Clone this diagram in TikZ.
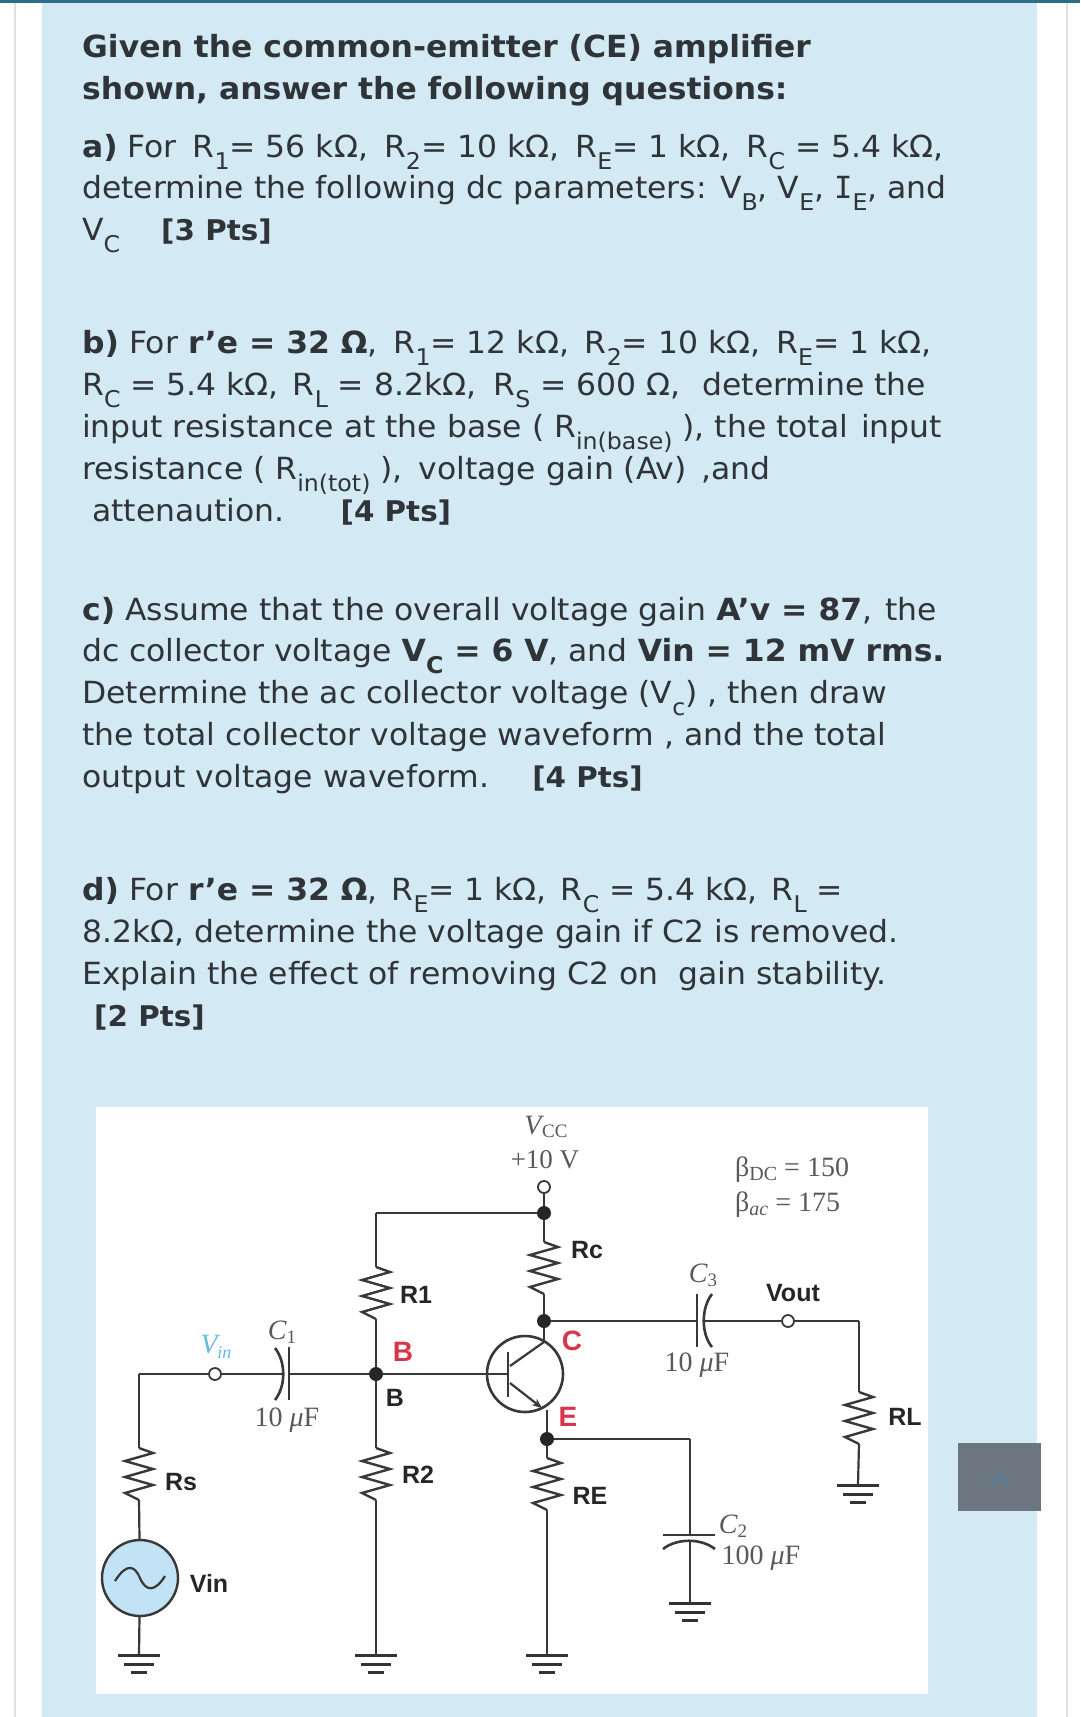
\documentclass[tikz,border=0pt]{standalone}
\usepackage{fontspec}
\setmainfont[FakeStretch=1.03]{DejaVu Sans}
\newfontfamily\serifx{Liberation Serif}
\newfontfamily\sansx{Liberation Sans}
\newfontfamily\monox{DejaVu Sans Mono}
\usetikzlibrary{arrows.meta}
\definecolor{panel}{HTML}{D3E9F3}
\definecolor{inktext}{HTML}{2F3438}
\definecolor{wire}{HTML}{383838}
\definecolor{redlab}{HTML}{D8344A}
\definecolor{bluelab}{HTML}{62BCE0}
\definecolor{srcfill}{HTML}{C2E2F5}
\definecolor{topbar}{HTML}{2A6F85}
\definecolor{greybox}{HTML}{6B7680}
\definecolor{caretc}{HTML}{4F7F9F}
\newcommand{\lowr}[1]{\raisebox{-12pt}{\fontsize{23}{23}\selectfont\mdseries #1}}
\newcommand{\lowb}[1]{\raisebox{-12pt}{\fontsize{23}{23}\selectfont\bfseries #1}}
\newcommand{\xs}{\hspace{6pt} }
\newcommand{\ptsb}[1]{{\fontsize{28.5}{36}\selectfont\bfseries #1}}
\tikzset{
  x=1pt,y=-1pt,
  textline/.style={anchor=base west,inner sep=0pt,text=inktext,font=\fontsize{30.5}{36}\selectfont},
  headline/.style={textline,font=\fontsize{30.5}{36}\selectfont\bfseries},
  wireline/.style={draw=wire,line width=2.2pt},
  plate/.style={draw=wire,line width=2.6pt},
  term/.style={circle,draw=wire,fill=white,line width=1.8pt,minimum size=12pt,inner sep=0pt},
  junc/.style={circle,fill=black!85,minimum size=14pt,inner sep=0pt},
  blk/.style={inner sep=0pt,text=black!85,font=\sansx\bfseries\fontsize{25}{28}\selectfont},
  redl/.style={inner sep=0pt,text=redlab,font=\sansx\bfseries\fontsize{28}{32}\selectfont},
  ser/.style={inner sep=0pt,text=black!65,font=\serifx\fontsize{28}{32}\selectfont},
  resv/.pic={
    \coordinate (-t) at (0,0); \coordinate (-b) at (0,52);
    \draw[draw=wire,line width=2.4pt,line join=miter]
      (0,0)--(14,5)--(-14,13)--(14,21)--(-14,29)--(14,37)--(-14,45)--(0,52);
  },
  gndsym/.pic={
    \coordinate (-t) at (0,0);
    \draw[draw=black!80,line width=3pt] (-21,0)--(21,0) (-15,9)--(15,9) (-8,17.5)--(8,17.5);
  }
}
\begin{document}
\begin{tikzpicture}
\useasboundingbox (0,0) rectangle (1080,1717);
\fill[white] (0,0) rectangle (1080,1717);
\fill[panel] (42,0) rectangle (1037,1717);
\fill[black!12] (14,0) rectangle (16,1717);
\fill[black!12] (1066,0) rectangle (1068,1717);
\fill[topbar] (0,0) rectangle (1080,3);
\fill[white] (96,1107) rectangle (928,1694);
\fill[greybox] (958,1443) rectangle (1041,1511);
\draw[draw=caretc,line width=2pt] (990,1485) -- (999,1476) -- (1008,1485);

% question text
\node[headline] (l1) at (82,57) {Given the common-emitter (CE) amplifier};
\node[headline] (l2) at (82,99) {shown, answer the following questions:};
\node[textline] (l3) at (82,157) {\textbf{a)} For \hspace{6pt}R\lowr{1}= 56 kΩ, \hspace{6pt}R\lowr{2}= 10 kΩ, \hspace{6pt}R\lowr{E}= 1 kΩ, \hspace{6pt}R\lowr{C} = 5.4 kΩ,};
\node[textline] (l4) at (82,198) {determine the following dc parameters: V\lowr{B}, V\lowr{E}, {\monox I}\lowr{E}, and};
\node[textline] (l5) at (82,240) {V\lowr{C}\hspace{41pt}\ptsb{[3 Pts]}};
\node[textline] (l6) at (82,353) {\textbf{b)} For \textbf{r’e = 32 Ω}, \hspace{6pt}R\lowr{1}= 12 kΩ, \hspace{6pt}R\lowr{2}= 10 kΩ, \hspace{6pt}R\lowr{E}= 1 kΩ,};
\node[textline] (l7) at (82,395) {R\lowr{C} = 5.4 kΩ,\hspace{4pt} R\lowr{L} = 8.2kΩ,\hspace{7pt} R\lowr{S} = 600 Ω,\hspace{12pt} determine the};
\node[textline] (l8) at (82,437) {input resistance at the base ( R\lowr{in(base)} ), the total\hspace{3pt} input};
\node[textline] (l9) at (82,479) {resistance ( R\lowr{in(tot)} ),\hspace{6pt} voltage gain (Av)\hspace{5pt} ,and};
\node[textline] (l10) at (92,521) {attenaution.\hspace{56pt}\ptsb{[4 Pts]}};
\node[textline] (l11) at (82,620) {\textbf{c)} Assume that the overall voltage gain \textbf{A’v = 87},\hspace{3pt} the};
\node[textline] (l12) at (82,661) {dc collector voltage \textbf{V\lowb{C} = 6 V}, and \textbf{Vin = 12 mV rms.}};
\node[textline] (l13) at (82,703) {Determine the ac collector voltage (V\lowr{c}) , then draw};
\node[textline] (l14) at (82,745) {the total collector voltage waveform , and the total};
\node[textline] (l15) at (82,787) {output voltage waveform.\hspace{43pt}\ptsb{[4 Pts]}};
\node[textline] (l16) at (82,900) {\textbf{d)} For \textbf{r’e = 32 Ω},\hspace{4pt} R\lowr{E}= 1 kΩ,\hspace{4pt} R\lowr{C} = 5.4 kΩ,\hspace{4pt} R\lowr{L} =};
\node[textline] (l17) at (82,942) {8.2kΩ, determine the voltage gain if C2 is removed.};
\node[textline] (l18) at (82,984) {Explain the effect of removing C2 on\hspace{20pt}gain stability.};
\node[textline] (l19) at (94,1026) {\ptsb{[2 Pts]}};

% circuit parts
\pic (r1) at (376,1267) {resv};
\pic (r2) at (376,1448) {resv};
\pic (rc) at (544,1242) {resv};
\pic (re) at (547,1458) {resv};
\pic (rs) at (139,1448) {resv};
\pic (rl) at (859,1392) {resv};
\pic (g1) at (139,1655) {gndsym};
\pic (g2) at (376,1655) {gndsym};
\pic (g3) at (547,1655) {gndsym};
\pic (g4) at (690,1603) {gndsym};
\pic (g5) at (858,1485) {gndsym};

\coordinate (topl) at (376,1213);
\coordinate (inl) at (139,1374);
\coordinate (outr) at (859,1321);
\coordinate (emr) at (690,1439);
\coordinate (c1a) at (282,1374);
\coordinate (c1b) at (289,1374);
\coordinate (c3a) at (697,1321);
\coordinate (c3b) at (704,1321);
\coordinate (c2a) at (690,1535);
\coordinate (c2b) at (690,1541);
\coordinate (barc) at (508,1374);
\coordinate (coltop) at (544,1342);
\coordinate (emtop) at (547,1410);

\node[circle,draw=wire,fill=white,line width=2.6pt,minimum size=76pt,inner sep=0pt] (qc) at (525,1374) {};
\node[circle,draw=wire,fill=srcfill,line width=2.4pt,minimum size=76pt,inner sep=0pt] (src) at (140,1578) {};
\draw[draw=wire,line width=2.2pt] (115,1581) .. controls (127,1562) and (135,1566) .. (140,1578) .. controls (146,1592) and (155,1592) .. (165,1576);

\node[junc] (jv) at (544,1213) {};
\node[junc] (jb) at (376,1374) {};
\node[junc] (jc) at (544,1321) {};
\node[junc] (je) at (547,1439) {};

\draw[wireline] (topl) -- (jv);
\draw[wireline] (topl) -- (r1-t);
\draw[wireline] (r1-b) -- (jb);
\draw[wireline] (jb) -- (r2-t);
\draw[wireline] (r2-b) -- (g2-t);
\draw[wireline] (jv) -- (rc-t);
\draw[wireline] (rc-b) -- (jc);
\draw[wireline] (jc) -- (coltop);
\draw[wireline] (emtop) -- (je);
\draw[wireline] (je) -- (re-t);
\draw[wireline] (re-b) -- (g3-t);
\draw[wireline] (je) -- (emr);
\draw[wireline] (emr) -- (c2a);
\draw[wireline] (c2b) -- (g4-t);
\draw[wireline] (inl) -- (rs-t);
\draw[wireline] (rs-b) -- (src);
\draw[wireline] (src) -- (g1-t);
\draw[wireline] (jb) -- (barc);
\draw[wireline] (jc) -- (c3a);
\draw[wireline] (c3b) -- (outr);
\draw[wireline] (outr) -- (rl-t);
\draw[wireline] (rl-b) -- (g5-t);

\node[term] (vin) at (215,1374) {};
\node[term] (vout) at (788,1321) {};
\node[term] (vcc) at (544,1187) {};
\draw[wireline] (vcc) -- (jv);
\draw[wireline] (inl) -- (vin);
\draw[wireline] (vin) -- (c1a);
\draw[wireline] (c1b) -- (jb);

% capacitors
\draw[plate] (289,1347) -- (289,1400);
\draw[plate] (275,1348) .. controls (286,1362) and (286,1386) .. (275,1400);
\draw[plate] (697,1294) -- (697,1347);
\draw[plate] (712,1294) .. controls (701,1308) and (701,1334) .. (712,1347);
\draw[plate] (663,1535) -- (715,1535);
\draw[plate] (663,1549) .. controls (677,1538) and (701,1538) .. (715,1549);

% transistor inside
\draw[draw=wire,line width=2.8pt] (508,1352) -- (508,1397);
\draw[draw=wire,line width=2.2pt] (510,1366) -- (coltop);
\draw[draw=wire,line width=2.2pt,-{Stealth[length=10pt,width=8pt]}] (510,1383) -- (542,1408);

% labels
\node[ser] (vcctxt) at (546,1127) {\textit{V}\hspace{-2pt}\raisebox{-3pt}{\fontsize{19}{19}\selectfont CC}};
\node[ser,font=\serifx\fontsize{27}{30}\selectfont] (v10) at (545,1160) {+10 V};
\node[ser,anchor=base west] (bdc) at (735,1176) {β\raisebox{-4pt}{\fontsize{20}{20}\selectfont DC} = 150};
\node[ser,anchor=base west] (bac) at (735,1211) {β\raisebox{-4pt}{\fontsize{20}{20}\selectfont\itshape ac} = 175};
\node[ser,text=bluelab] (vintxt) at (216,1347) {\textit{V}\hspace{-3pt}\raisebox{-5pt}{\fontsize{18}{18}\selectfont\itshape in}};
\node[ser] (c1t) at (282,1332) {\textit{C}\raisebox{-4pt}{\fontsize{19}{19}\selectfont 1}};
\node[ser] (c3t) at (703,1275) {\textit{C}\raisebox{-4pt}{\fontsize{19}{19}\selectfont 3}};
\node[ser] (c2t) at (733,1526) {\textit{C}\raisebox{-4pt}{\fontsize{19}{19}\selectfont 2}};
\node[ser] (c1v) at (287,1420) {10 \textit{μ}F};
\node[ser] (c3v) at (697,1365) {10 \textit{μ}F};
\node[ser] (c2v) at (761,1558) {100 \textit{μ}F};
\node[blk] (r1t) at (416,1295) {R1};
\node[blk] (r2t) at (418,1475) {R2};
\node[blk] (rct) at (587,1250) {Rc};
\node[blk] (ret) at (590,1496) {RE};
\node[blk] (rst) at (181,1482) {Rs};
\node[blk] (rlt) at (905,1417) {RL};
\node[blk] (vst) at (209,1583) {Vin};
\node[blk] (vot) at (793,1293) {Vout};
\node[blk] (bbl) at (395,1398) {B};
\node[redl] (bred) at (403,1352) {B};
\node[redl] (cred) at (572,1341) {C};
\node[redl] (ered) at (568,1417) {E};
\end{tikzpicture}
\end{document}
